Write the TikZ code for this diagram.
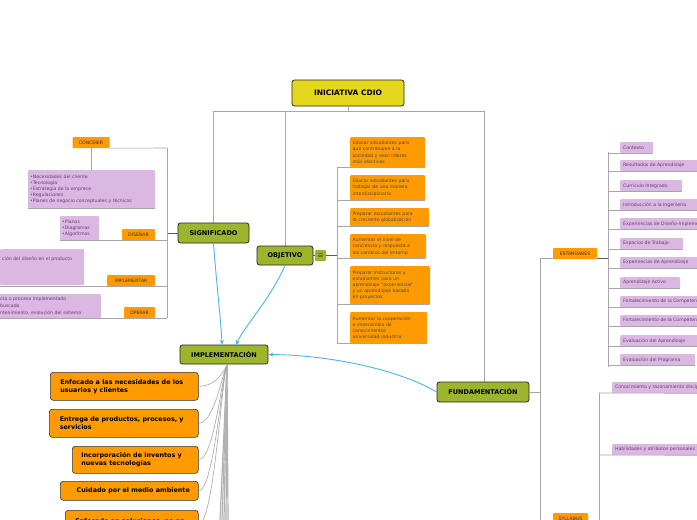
\documentclass[tikz,border=0pt]{standalone}
\usepackage{fontspec}
\setmainfont{DejaVu Sans}
\usetikzlibrary{arrows.meta}
\definecolor{gr}{HTML}{9CB52C}
\definecolor{ye}{HTML}{E4D81C}
\definecolor{orr}{HTML}{FF9A00}
\definecolor{pu}{HTML}{DAB8E2}
\definecolor{put}{HTML}{6A3A70}
\definecolor{bla}{HTML}{4CB4E6}
\begin{document}
\begin{tikzpicture}[x=1pt,y=-1pt,
 main/.style={draw=black!85,line width=0.8pt,rounded corners=2.5pt,fill=gr,font=\fontsize{6.5}{7}\selectfont\bfseries,inner sep=0pt},
 root/.style={main,fill=ye,font=\fontsize{7.5}{8}\selectfont\bfseries},
 tag/.style={fill=orr,rounded corners=1pt,font=\fontsize{4.6}{5}\selectfont,text=black!80,inner sep=0pt},
 obox/.style={fill=orr,rounded corners=1pt,font=\fontsize{4.6}{6.2}\selectfont,text=black!70,align=left,inner sep=2.5pt,anchor=north west},
 pbox/.style={fill=pu,rounded corners=1pt,font=\fontsize{4.6}{6}\selectfont,text=put,align=left,inner sep=2pt,anchor=north west},
 ibox/.style={draw=black!80,line width=0.6pt,fill=orr,rounded corners=3pt,font=\fontsize{6.4}{8}\selectfont\bfseries,align=left,inner sep=0pt,anchor=north west},
 ln/.style={draw=black!35,line width=0.6pt},
 dk/.style={draw=black!65,line width=0.8pt},
 bl/.style={draw=bla,line width=0.9pt,-{Stealth[length=5pt,width=4pt]}},
]
\useasboundingbox (0,0) rectangle (697,520);
\clip (0,0) rectangle (697,520);
\fill[white] (0,0) rectangle (697,520);
% root and main nodes
\node[root,minimum width=112,minimum height=26] (root) at (348,93) {INICIATIVA CDIO};
\coordinate (t) at (348,111);
\draw[ln] (root.south) -- (t);
\draw[ln] (213,223) -- (213,111) -- (484,111) -- (484,382);
\draw[ln] (285,111) -- (285,246);
\node[main,minimum width=71,minimum height=20] (sig) at (213.5,233) {SIGNIFICADO};
\node[main,minimum width=56,minimum height=19] (obj) at (285,255.5) {OBJETIVO};
\node[main,minimum width=88,minimum height=19] (imp) at (224,354.5) {IMPLEMENTACIÓN};
\node[main,minimum width=92,minimum height=20] (fun) at (483,392) {FUNDAMENTACIÓN};
% blue arrows
\draw[bl] (sig.south) .. controls (217,290) and (221,320) .. (222,345);
\draw[bl] (obj.south) .. controls (270,300) and (245,325) .. (236,345);
\draw[bl] (fun.west) .. controls (400,370) and (330,355) .. (imp.east);
% SIGNIFICADO children
\draw[dk] (sig.west) -- (167,233);
\draw[ln] (167,148) -- (167,318);
\node[tag,minimum width=37,minimum height=11] (conc) at (91,142.5) {CONCEBIR};
\draw[ln] (conc.south east) -- (167,148);
\node[pbox,text width=123,minimum height=38] (p1) at (28,170) {•Necesidades del cliente\\•Tecnología\\•Estrategia de la empresa\\•Regulaciones\\•Planes de negocio conceptuales y técnicos};
\draw[ln] (conc.south) -- (p1.north -| conc.south);
\draw[ln] (p1.south west) -- (p1.south east);
\node[pbox,text width=35,minimum height=24] (p2) at (60,216) {•Planos\\•Diagramas\\•Algoritmos};
\node[tag,minimum width=33,minimum height=11] (dis) at (138.5,234.5) {DISEÑAR};
\draw[ln] (60,240) -- (167,240);
\node[pbox,text width=80,minimum height=36] (p3) at (0,249) {ción del diseño en el producto\\[12pt]\mbox{}};
\node[tag,minimum width=48,minimum height=11] (impl) at (131,280.5) {IMPLEMENTAR};
\draw[ln] (0,286) -- (167,286);
\node[pbox,text width=99,minimum height=24,font=\fontsize{4.6}{6.8}\selectfont] (p4) at (-2,294) {cto o proceso implementado\\ buscado\\ntenimiento, evolución del sistema};
\node[tag,minimum width=31,minimum height=11] (ope) at (139.5,312.5) {OPERAR};
\draw[ln] (0,318) -- (167,318);
% OBJETIVO children
\node[fill=gr,rounded corners=1pt,minimum width=11,minimum height=11,inner sep=0pt,font=\fontsize{7}{7}\selectfont] (ic) at (320.5,255.5) {$\equiv$};
\draw[dk] (obj.east) -- (ic.west);
\draw[dk] (ic.east) -- (337,255.5);
\draw[ln] (337,167) -- (337,343);
\node[obox,text width=70,minimum height=30] (o1) at (350,137) {Educar estudiantes para\\que contribuyen a la\\sociedad y sean líderes\\más efectivos};
\node[obox,text width=70,minimum height=25] (o2) at (350,175) {Educar estudiantes para\\trabajar de una manera\\interdisciplinaria};
\node[obox,text width=74,minimum height=18] (o3) at (350,208) {Preparar estudiantes para\\la creciente globalización};
\node[obox,text width=71,minimum height=24] (o4) at (350,234) {Aumentar el nivel de\\conciencia y respuesta a\\los cambios del entorno};
\node[obox,text width=75,minimum height=38] (o5) at (350,266) {Preparar instructores y\\estudiantes para un\\aprendizaje "experiencial"\\y un aprendizaje basado\\en proyectos};
\node[obox,text width=72,minimum height=31] (o6) at (350,312) {Aumentar la cooperación\\e intercambio de\\conocimientos\\universidad-industria};
\foreach \n in {o1,o2,o3,o4,o5,o6}{\draw[ln] (337,0 |- \n.south) -- (\n.south east);}
% FUNDAMENTACIÓN children
\draw[ln] (fun.east) -- (540,392);
\draw[ln] (540,258) -- (540,520);
\node[tag,minimum width=44,minimum height=11] (est) at (575,253.5) {ESTÁNDARES};
\draw[ln] (540,258) -- (est.west |- 0,258);
\draw[dk] (est.east |- 0,258) -- (608,258);
\draw[ln] (608,152) -- (608,367);
\foreach \i/\y/\w/\t in {
 s1/142/31/Contexto, s2/160/90/Resultados de Aprendizaje, s3/180/60/Currículo Integrado,
 s4/199/90/Introducción a la Ingeniería, s5/218/100/Experiencias de Diseño-Implementación,
 s6/238/61/Espacios de Trabajo, s7/257/90/Experiencias de Aprendizaje, s8/277/58/Aprendizaje Activo,
 s9/296/100/Fortalecimiento de la Competencia Docente, s10/315/100/Fortalecimiento de la Competencia, s11/335/95/Evaluación del Aprendizaje,
 s12/354/73/Evaluación del Programa}{
 \node[pbox,minimum height=11,inner sep=1pt] (\i) at (620,\y) {\makebox[\w pt][l]{\hspace{2pt}\t}};
 \draw[ln] (608,0 |- \i.south) -- (\i.south east);
}
\node[tag,minimum width=35,minimum height=12] (syl) at (570.5,519) {SYLLABUS};
\draw[ln] (599,393) -- (599,520);
\node[pbox,minimum height=11,inner sep=1pt] (c1) at (612,382) {\makebox[120pt][l]{\hspace{2pt}Conocimiento y razonamiento disciplinar}};
\node[pbox,minimum height=11,inner sep=1pt] (c2) at (612,444) {\makebox[120pt][l]{\hspace{2pt}Habilidades y atributos personales}};
\draw[ln] (599,393) -- (c1.south east);
\draw[ln] (599,455) -- (c2.south east);
% IMPLEMENTACIÓN children
\coordinate (hub) at (227,365);
\foreach \a/\b in {222/520,224/520,226/520,220/520,228/520}{\draw[draw=black!30,line width=1.2pt] (hub) -- (\a,\b);}
\node[ibox,minimum width=148,minimum height=28] (i1) at (50,372) {\hspace{7pt}\parbox{135pt}{Enfocado a las necesidades de los\\usuarios y clientes}};
\node[ibox,minimum width=149,minimum height=28] (i2) at (49,409) {\hspace{7pt}\parbox{135pt}{Entrega de productos, procesos, y\\servicios}};
\node[ibox,minimum width=126,minimum height=27] (i3) at (72,446) {\hspace{7pt}\parbox{115pt}{Incorporación de inventos y\\nuevas tecnologías}};
\node[ibox,minimum width=138,minimum height=19] (i4) at (60,481) {\hspace{8pt}Cuidado por el medio ambiente};
\node[ibox,minimum width=133,minimum height=28] (i5) at (65,510) {\hspace{7pt}\parbox{120pt}{\vspace{2pt}Enfocado en soluciones, no en\\x}};
\foreach \n in {i1,i2,i3,i4,i5}{\draw[ln] (\n.east) .. controls (214,0 |- \n.east) and (222,375) .. (hub);}
\end{tikzpicture}
\end{document}
